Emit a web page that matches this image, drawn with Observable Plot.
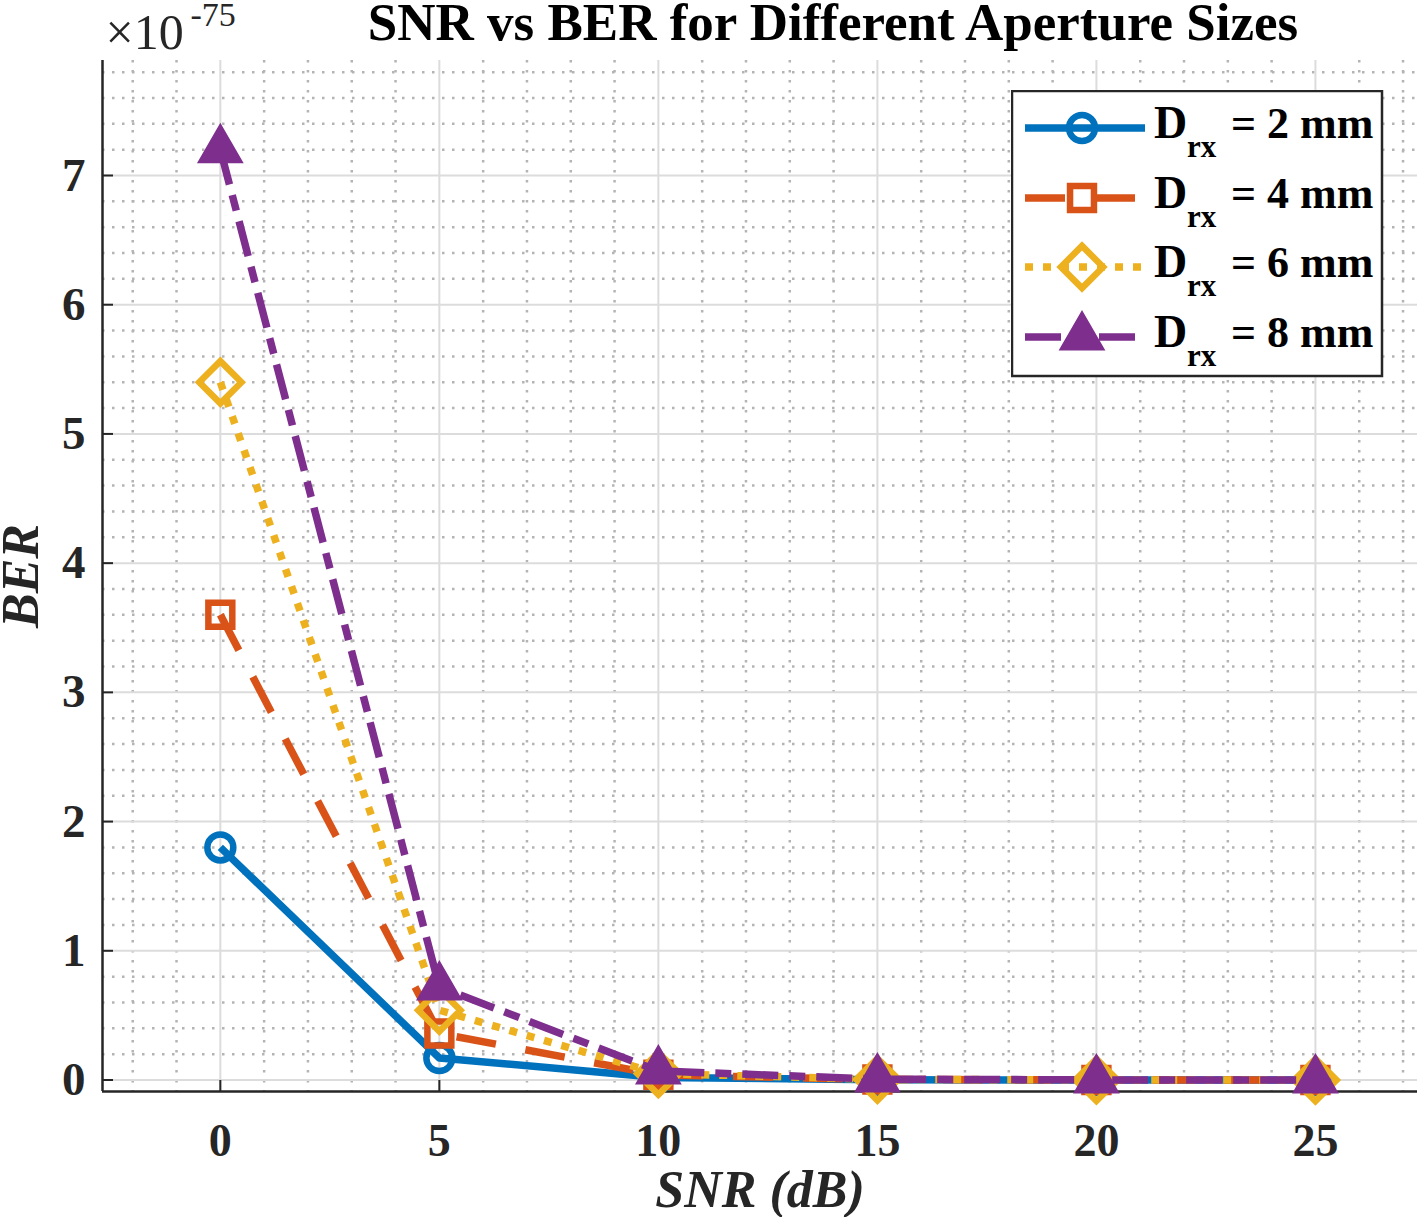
<!DOCTYPE html>
<html>
<head>
<meta charset="utf-8">
<script src="https://cdn.jsdelivr.net/npm/d3@7"></script>
<script src="https://cdn.jsdelivr.net/npm/@observablehq/plot@0.6"></script>
<style>
  body { margin: 0; background: #fff; }
  #wrap { position: relative; width: 1417px; height: 1217px; overflow: hidden; font-family: "Liberation Serif", "Times New Roman", serif; }
  #legend { position: absolute; left: 1011px; top: 90px; }
</style>
</head>
<body>
<div id="wrap"></div>
<script>
// ---- data ----
const snr = [0, 5, 10, 15, 20, 25];
const ber2mm = [1.8, 0.17, 0.02, 0.002, 0.0002, 0.00002];
const ber4mm = [3.6, 0.36, 0.04, 0.004, 0.0004, 0.00004];
const ber6mm = [5.4, 0.54, 0.05, 0.005, 0.0005, 0.00005];
const ber8mm = [7.2, 0.72, 0.07, 0.007, 0.0007, 0.00007];
const apertures = ["2 mm", "4 mm", "6 mm", "8 mm"];
const xTicks = [0, 5, 10, 15, 20, 25];
const yTicks = [0, 1, 2, 3, 4, 5, 6, 7];
const titleText = "SNR vs BER for Different Aperture Sizes";
const xLabel = "SNR (dB)";
const yLabel = "BER";
const exponentText = "-75";

// ---- styles ----
const colors = ["#0072BD", "#D95319", "#EDB120", "#7E2F8E"];
const dashes = [null, "40,30", "8,10", "36,11,16,11"];
const symbols = ["circle", "square", "diamond2", "triangle"];
const radii = [13, 13.5, 19, 14.8];
const fills = ["none", "none", "none", "#7E2F8E"];
const markStroke = [6.5, 6.5, 6.5, 4];

const W = 1417, H = 1217, mT = 60, mL = 102, mB = 126, mR = 0;
const frameW = W - mL - mR, frameH = H - mT - mB;
const xDomain = [-2.69, 27.33];
const yDomain = [-0.089, 7.89];

const xMinor = d3.range(-2, 28, 1).filter(v => !xTicks.includes(v));
const yMinor = d3.range(1, 40, 1).map(v => v / 5).filter(v => !Number.isInteger(v));

const seriesValues = [ber2mm, ber4mm, ber6mm, ber8mm];
const series = seriesValues.map((vals, i) => snr.map((s, j) => ({snr: s, ber: vals[j], name: apertures[i]})));

const axisColor = "#262626";
const marks = [
  Plot.ruleX(xMinor, {stroke: "#b4b4b4", strokeWidth: 2.5, strokeDasharray: "2.5,7.5"}),
  Plot.ruleY(yMinor, {stroke: "#b4b4b4", strokeWidth: 2.5, strokeDasharray: "2.5,7.5"}),
  Plot.ruleX(xTicks, {stroke: "#dcdcdc", strokeWidth: 2}),
  Plot.ruleY(yTicks, {stroke: "#dcdcdc", strokeWidth: 2}),
  Plot.tickX(xTicks, {insetTop: frameH - 11, stroke: axisColor, strokeWidth: 2}),
  Plot.tickY(yTicks, {insetRight: frameW - 11, stroke: axisColor, strokeWidth: 2}),
  Plot.ruleX([xDomain[0]], {stroke: axisColor, strokeWidth: 2.5}),
  Plot.ruleY([yDomain[0]], {stroke: axisColor, strokeWidth: 2.5})
];
series.forEach((data, i) => {
  marks.push(Plot.line(data, {x: "snr", y: "ber", stroke: colors[i], strokeWidth: 7.5,
    strokeDasharray: dashes[i], strokeLinejoin: "round", strokeLinecap: "butt"}));
  marks.push(Plot.dot(data, {x: "snr", y: "ber", symbol: () => symbols[i], r: radii[i],
    stroke: colors[i], fill: fills[i], strokeWidth: markStroke[i], strokeLinejoin: "miter"}));
});
const mid = {lineAnchor: "middle", textAnchor: "middle"};
marks.push(
  Plot.axisX(xTicks, {anchor: "bottom", tickSize: 0, tickPadding: 32, fontSize: 46, fontWeight: "bold", label: null, fill: axisColor, tickFormat: d3.format("d")}),
  Plot.axisY(yTicks, {anchor: "left", tickSize: 0, tickPadding: 17, fontSize: 47, fontWeight: "bold", label: null, fill: axisColor, tickFormat: d3.format("d")}),
  Plot.text([titleText], {...mid, text: d => d, frameAnchor: "top", dx: 73, dy: -37, fontSize: 53, fontWeight: "bold", fill: "#000"}),
  Plot.text([xLabel], {...mid, text: d => d, frameAnchor: "bottom", dy: 99, fontSize: 52, fontWeight: "bold", fontStyle: "italic", fill: axisColor}),
  Plot.text([yLabel], {...mid, text: d => d, frameAnchor: "left", dx: -81, rotate: -90, fontSize: 52, fontWeight: "bold", fontStyle: "italic", fill: axisColor}),
  Plot.text(["×10"], {lineAnchor: "middle", textAnchor: "start", text: d => d, frameAnchor: "top-left", dx: 3, dy: -28, fontSize: 50, fill: axisColor}),
  Plot.text([exponentText], {lineAnchor: "middle", textAnchor: "start", text: d => d, frameAnchor: "top-left", dx: 88, dy: -45, fontSize: 34, fill: axisColor})
);

const chart = Plot.plot({
  width: W, height: H,
  marginTop: mT, marginLeft: mL, marginBottom: mB, marginRight: mR,
  x: {type: "linear", domain: xDomain},
  y: {type: "linear", domain: yDomain},
  style: {fontFamily: "'Liberation Serif', 'Times New Roman', serif", color: axisColor, background: "#fff", overflow: "visible"},
  marks
});
document.getElementById("wrap").appendChild(chart);

// ---- legend ----
const legend = d3.select("#wrap").append("svg").attr("id", "legend")
  .attr("width", 373).attr("height", 288)
  .style("font-family", "'Liberation Serif', 'Times New Roman', serif");
legend.append("rect").attr("x", 1).attr("y", 1).attr("width", 370).attr("height", 285)
  .attr("fill", "#fff").attr("stroke", axisColor).attr("stroke-width", 2.5);
const rowOff = [38, 108, 177, 247];
const d3sym = {circle: d3.symbolCircle, square: d3.symbolSquare, diamond2: d3.symbolDiamond2, triangle: d3.symbolTriangle};
apertures.forEach((name, i) => {
  const g = legend.append("g").attr("transform", `translate(0,${rowOff[i]})`);
  g.append("line").attr("x1", 14).attr("x2", 134).attr("y1", 0).attr("y2", 0)
    .attr("stroke", colors[i]).attr("stroke-width", 7.5)
    .attr("stroke-dasharray", dashes[i]);
  g.append("path").attr("transform", "translate(71,0)")
    .attr("d", d3.symbol(d3sym[symbols[i]], Math.PI * radii[i] * radii[i])())
    .attr("fill", fills[i]).attr("stroke", colors[i]).attr("stroke-width", markStroke[i])
    .attr("stroke-linejoin", "miter");
  g.append("text").attr("x", 143).attr("y", 10).attr("font-size", 46).attr("font-weight", "bold")
    .attr("fill", "#000").text("D");
  g.append("text").attr("x", 176).attr("y", 29).attr("font-size", 31).attr("font-weight", "bold")
    .attr("fill", "#000").text("rx");
  g.append("text").attr("x", 220).attr("y", 10).attr("font-size", 44).attr("font-weight", "bold")
    .attr("fill", "#000").text("= " + name);
});
</script>
</body>
</html>
